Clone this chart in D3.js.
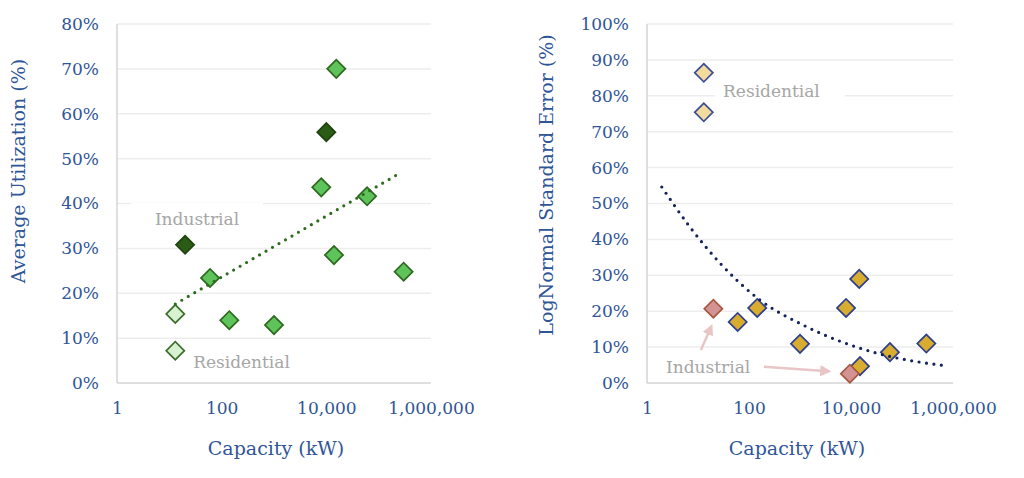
<!DOCTYPE html>
<html>
<head>
<meta charset="utf-8">
<script src="https://cdn.jsdelivr.net/npm/d3@7"></script>
<style>
  body { margin: 0; background: #fff; }
  svg text { font-family: Georgia, "DejaVu Serif", serif; }
</style>
</head>
<body>
<div id="chart"></div>
<script>
// ---- left panel: average utilization vs capacity
const utilCapacity = [13, 13, 20, 60, 140, 1000, 8000, 10000, 14000, 15500, 60000, 300000];
const utilValue    = [15.4, 7.2, 30.8, 23.4, 14.0, 12.9, 43.6, 55.9, 28.5, 70.0, 41.6, 24.8];
const utilType     = ["res", "res", "ind", "com", "com", "com", "com", "ind", "com", "com", "com", "com"];
const utilTrend    = [[13, 17.6], [257000, 46.8]];
const utilTicks    = [0, 10, 20, 30, 40, 50, 60, 70, 80];

// ---- right panel: lognormal standard error vs capacity
const errCapacity = [13, 13, 20, 9500, 60, 145, 1000, 8000, 14500, 15000, 58000, 300000];
const errValue    = [86.4, 75.4, 20.7, 2.6, 17.0, 20.9, 10.9, 20.9, 29.0, 4.7, 8.6, 11.0];
const errType     = ["res", "res", "ind", "ind", "com", "com", "com", "com", "com", "com", "com", "com"];
const errTrend    = [[1.95, 54.6], [6.9, 43.5], [27, 33.4], [145, 23.7], [1380, 15.6], [27000, 8.6], [800000, 4.7]];
const errTicks    = [0, 10, 20, 30, 40, 50, 60, 70, 80, 90, 100];

const xTicks = [1, 100, 10000, 1000000];

const W = 1024, H = 478;
const plotTop = 24, plotBottom = 383;
const blue = "#2f5597", grey = "#a6a6a6", pink = "#e8c6c6";

const svg = d3.select("#chart").append("svg")
  .attr("width", W)
  .attr("height", H);

svg.append("defs").append("marker")
  .attr("id", "arrow")
  .attr("viewBox", "0 0 10 10")
  .attr("refX", 7).attr("refY", 5)
  .attr("markerWidth", 4.5).attr("markerHeight", 4.5)
  .attr("orient", "auto")
  .append("path")
  .attr("d", "M0,0L10,5L0,10Z")
  .attr("fill", pink);

const order = { com: 0, res: 1, ind: 2 };

function drawPanel(p) {
  const width = p.right - p.left, height = plotBottom - plotTop;
  const g = svg.append("g").attr("transform", "translate(" + p.left + "," + plotTop + ")");

  const x = d3.scaleLog().domain([1, 1000000]).range([0, width]);
  const y = d3.scaleLinear().domain([0, d3.max(p.yTicks)]).range([height, 0]);

  // gridlines
  g.selectAll(".grid").data(p.yTicks.filter(d => d > 0)).join("line")
    .attr("x1", 0).attr("x2", width)
    .attr("y1", d => y(d)).attr("y2", d => y(d))
    .attr("stroke", "#ededed").attr("stroke-width", 1.5);

  // axis lines
  g.append("line").attr("x1", 0).attr("x2", 0).attr("y1", 0).attr("y2", height)
    .attr("stroke", "#d4d4d4").attr("stroke-width", 1.5);
  g.append("line").attr("x1", 0).attr("x2", width).attr("y1", height).attr("y2", height)
    .attr("stroke", "#d4d4d4").attr("stroke-width", 1.5);

  const yAxis = g.append("g")
    .call(d3.axisLeft(y).tickValues(p.yTicks).tickFormat(d => d + "%").tickSize(0).tickPadding(18));
  const xAxis = g.append("g")
    .attr("transform", "translate(0," + height + ")")
    .call(d3.axisBottom(x).tickValues(xTicks).tickFormat(d3.format(",")).tickSize(0).tickPadding(19));
  [yAxis, xAxis].forEach(a => {
    a.select(".domain").remove();
    a.selectAll("text").attr("fill", blue).style("font-size", "17px")
      .style("font-family", 'Georgia, "DejaVu Serif", serif');
  });

  // axis titles
  g.append("text")
    .attr("transform", "translate(" + p.titleX + "," + p.titleY + ") rotate(-90)")
    .attr("text-anchor", "middle")
    .attr("fill", blue).style("font-size", "19px")
    .text(p.yTitle);
  g.append("text")
    .attr("x", width / 2 + p.xTitleShift).attr("y", 455 - plotTop)
    .attr("text-anchor", "middle")
    .attr("fill", blue).style("font-size", "19px")
    .text("Capacity (kW)");

  // category labels with white boxes that hide the gridlines behind them
  p.labels.forEach(l => {
    const t = g.append("text")
      .attr("x", x(l.cap)).attr("y", y(l.val))
      .attr("fill", grey).style("font-size", "17px")
      .text(l.text);
    const b = t.node().getBBox();
    g.insert("rect", () => t.node())
      .attr("x", b.x - l.padL).attr("y", b.y - 6)
      .attr("width", b.width + l.padL + l.padR).attr("height", b.height + 10)
      .attr("fill", "#fff");
  });

  (p.arrows || []).forEach(a => {
    g.append("line")
      .attr("x1", x(a[0][0])).attr("y1", y(a[0][1]))
      .attr("x2", x(a[1][0])).attr("y2", y(a[1][1]))
      .attr("stroke", pink).attr("stroke-width", 2.5)
      .attr("marker-end", "url(#arrow)");
  });

  // points
  const pts = p.cap.map((c, i) => ({ cap: c, val: p.val[i], type: p.type[i] }))
    .sort((a, b) => order[a.type] - order[b.type]);
  const diamond = d3.symbol(d3.symbolSquare, 165)();
  g.selectAll(".pt").data(pts).join("path")
    .attr("d", diamond)
    .attr("transform", d => "translate(" + x(d.cap) + "," + y(d.val) + ") rotate(45)")
    .attr("fill", d => p.colors[d.type][0])
    .attr("stroke", d => p.colors[d.type][1])
    .attr("stroke-width", 1.7);

  // trendline
  const line = d3.line().x(d => x(d[0])).y(d => y(d[1])).curve(d3.curveMonotoneX);
  g.append("path").datum(p.trend)
    .attr("d", line)
    .attr("fill", "none")
    .attr("stroke", p.trendColor)
    .attr("stroke-width", 3.2)
    .attr("stroke-linecap", "round")
    .attr("stroke-dasharray", "0,7.5");
}

drawPanel({
  left: 117, right: 431,
  cap: utilCapacity, val: utilValue, type: utilType,
  trend: utilTrend, trendColor: "#2e6b1f",
  yTicks: utilTicks,
  yTitle: "Average Utilization (%)", titleX: 25 - 117, titleY: 171 - plotTop, xTitleShift: 2,
  colors: {
    com: ["#5fc35c", "#2d6a1e"],
    ind: ["#2b5c16", "#1e4210"],
    res: ["#d7f1d1", "#3b6e2a"]
  },
  labels: [
    { text: "Industrial", cap: 5.3, val: 35.2, padL: 24, padR: 24 },
    { text: "Residential", cap: 28.5, val: 3.3, padL: 4, padR: 4 }
  ]
});

drawPanel({
  left: 647, right: 953,
  cap: errCapacity, val: errValue, type: errType,
  trend: errTrend, trendColor: "#14245a",
  yTicks: errTicks,
  yTitle: "LogNormal Standard Error (%)", titleX: 553 - 647, titleY: 185 - plotTop, xTitleShift: -3,
  colors: {
    com: ["#d8ad2f", "#2e3f8c"],
    ind: ["#d49393", "#a8583f"],
    res: ["#f1dc9e", "#3c4d96"]
  },
  labels: [
    { text: "Residential", cap: 31, val: 79.7, padL: 8, padR: 25 },
    { text: "Industrial", cap: 2.36, val: 2.8, padL: 4, padR: 4 }
  ],
  arrows: [
    [[11.4, 9.2], [18, 15.6]],
    [[196, 4.5], [3550, 3.3]]
  ]
});
</script>
</body>
</html>
